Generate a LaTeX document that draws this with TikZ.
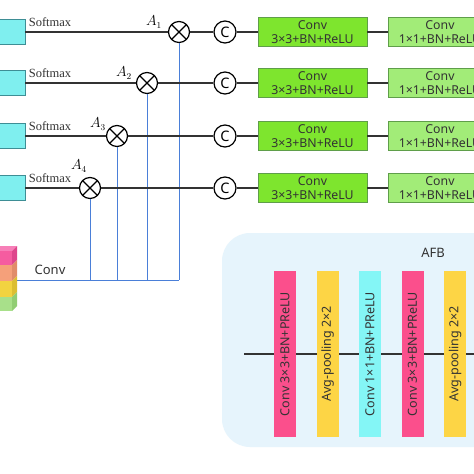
\documentclass[tikz,border=0pt]{standalone}
\usepackage{fontspec}
\setmainfont{Liberation Serif}
\setsansfont{Noto Sans}
\definecolor{cyanfill}{HTML}{7FEFEF}
\definecolor{cyanborder}{HTML}{3E8E95}
\definecolor{gfill}{HTML}{7EE52E}
\definecolor{gborder}{HTML}{5F9E4A}
\definecolor{lgfill}{HTML}{A2EC78}
\definecolor{blueline}{HTML}{4A7FD8}
\definecolor{panel}{HTML}{E6F4FC}
\definecolor{barpink}{HTML}{FB4F8C}
\definecolor{baryellow}{HTML}{FDD545}
\definecolor{barcyan}{HTML}{84F6F6}
\definecolor{txt}{HTML}{333333}
\definecolor{cubetop}{HTML}{F77FB8}
\definecolor{cpink}{RGB}{245,92,160}
\definecolor{cpinkS}{RGB}{222,70,140}
\definecolor{csal}{RGB}{245,160,122}
\definecolor{csalS}{RGB}{225,140,105}
\definecolor{cyel}{RGB}{242,211,64}
\definecolor{cyelS}{RGB}{220,190,50}
\definecolor{cgrn}{RGB}{168,224,138}
\definecolor{cgrnS}{RGB}{145,205,115}
\tikzset{
 bk/.style={draw=txt, line width=1.2pt},
 bl/.style={draw=blueline, line width=1pt},
 cbox/.style={draw=cyanborder, fill=cyanfill, line width=0.8pt, minimum width=35pt, minimum height=25pt, inner sep=0pt},
 mult/.style={circle, draw=black, line width=1.2pt, fill=white, minimum size=21pt, inner sep=0pt,
   path picture={\draw[line width=1.2pt] (path picture bounding box.north west) -- (path picture bounding box.south east) (path picture bounding box.north east) -- (path picture bounding box.south west);}},
 cat/.style={circle, draw=black, line width=1.2pt, fill=white, minimum size=22pt, inner sep=0pt, font=\sffamily\fontsize{14.5}{14.5}\selectfont},
 gbox/.style={draw=gborder, fill=gfill, line width=0.8pt, minimum width=109pt, minimum height=29pt, inner sep=0pt, align=center, text=txt, font=\sffamily\fontsize{12.3}{14}\selectfont},
 lgbox/.style={gbox, fill=lgfill, minimum width=104pt},
 smx/.style={font=\fontsize{12.5}{12.5}\selectfont, text=txt, inner sep=0pt},
 alab/.style={font=\fontsize{13.5}{13.5}\selectfont, inner sep=0pt},
 bar/.style={minimum width=166pt, minimum height=22pt, inner sep=0pt, rotate=90, text=txt, font=\sffamily\fontsize{12.5}{12.5}\selectfont},
}
\begin{document}
\begin{tikzpicture}[x=1pt,y=-1pt]
\useasboundingbox (0,0) rectangle (474,474);
\clip (0,0) rectangle (474,474);
\fill[white] (0,0) rectangle (474,474);
% AFB panel
\fill[panel, rounded corners=28pt] (222,233) rectangle (520,447);
\node[font=\sffamily\fontsize{13}{13}\selectfont, text=txt, inner sep=0pt] (afb) at (433,253) {AFB};
\coordinate (afbin) at (244,354);
\coordinate (afbout) at (474,354);
\draw[bk] (afbin) -- (afbout);
\node[bar, fill=barpink] (b1) at (285,354) {Conv 3×3+BN+PReLU};
\node[bar, fill=baryellow] (b2) at (327.5,354) {Avg-pooling 2×2};
\node[bar, fill=barcyan] (b3) at (370,354) {Conv 1×1+BN+PReLU};
\node[bar, fill=barpink] (b4) at (412.5,354) {Conv 3×3+BN+PReLU};
\node[bar, fill=baryellow] (b5) at (455,354) {Avg-pooling 2×2};
% rows
\foreach \i/\y/\mx/\ax/\ay in {1/32/179/154/22, 2/83/147/124/73, 3/136/117/98/124, 4/188/90/79/166}{
  \node[cbox] (s\i) at (7.5,\y) {};
  \node[mult] (m\i) at (\mx,\y) {};
  \node[cat] (c\i) at (225,\y) {C};
  \node[gbox] (g\i) at (312.5,\y) {Conv\\3×3+BN+ReLU};
  \node[lgbox] (l\i) at (440,\y) {Conv\\1×1+BN+ReLU};
  \node[smx] (t\i) at (50,\y-10) {Softmax};
  \node[alab] (a\i) at (\ax,\ay) {$A_{\i}$};
}
% bus
\coordinate (bus) at (17,280);
\draw[bl] (bus) -- (m1 |- bus);
\foreach \i in {1,2,3,4}{
  \draw[bl] (m\i.south) -- (m\i |- bus);
}
\foreach \i in {1,2,3,4}{
  \draw[bk] (s\i) -- (m\i);
  \draw[bk] (m\i) -- (c\i);
  \draw[bk] (c\i) -- (g\i);
  \draw[bk] (g\i) -- (l\i);
}
\node[font=\sffamily\fontsize{13}{13}\selectfont, text=txt, inner sep=0pt] (convlab) at (50,270) {Conv};
% stacked feature cube
\fill[cubetop] (-10,251) -- (12,251) -- (17,246) -- (-5,246) -- cycle;
\fill[cpink] (-10,251) rectangle (12,265);
\fill[cpinkS] (12,251) -- (17,246) -- (17,260) -- (12,265) -- cycle;
\fill[csal] (-10,265) rectangle (12,281);
\fill[csalS] (12,265) -- (17,260) -- (17,276) -- (12,281) -- cycle;
\fill[cyel] (-10,281) rectangle (12,297);
\fill[cyelS] (12,281) -- (17,276) -- (17,292) -- (12,297) -- cycle;
\fill[cgrn] (-10,297) rectangle (12,311);
\fill[cgrnS] (12,297) -- (17,292) -- (17,306) -- (12,311) -- cycle;
\end{tikzpicture}
\end{document}
